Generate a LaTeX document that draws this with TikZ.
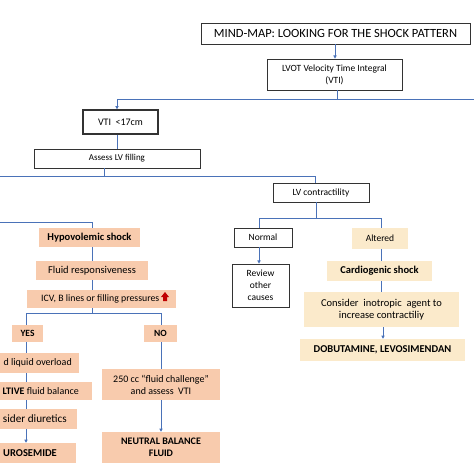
\documentclass[tikz,border=0pt]{standalone}
\usepackage{fontspec}
\setmainfont{Carlito}
\usetikzlibrary{arrows.meta}
\definecolor{peach}{HTML}{F8CBAD}
\definecolor{yel}{HTML}{FBEACB}
\definecolor{conn}{HTML}{4A72B8}
\definecolor{redarr}{HTML}{C00000}
\tikzset{
  base/.style={rectangle, inner sep=1pt, align=center, font=\fontsize{9.5}{11.5}\selectfont},
  wbox/.style={base, draw=black!80, line width=0.7pt, fill=white},
  pbox/.style={base, fill=peach},
  ybox/.style={base, fill=yel},
  ln/.style={draw=conn, line width=0.8pt},
  ar/.style={ln, -{Triangle[width=3.2pt,length=3.2pt]}},
  fs/.style={font=\fontsize{#1}{12}\selectfont},
  fb/.style={font=\fontsize{#1}{12}\selectfont\bfseries},
}
\begin{document}
\begin{tikzpicture}[x=1pt,y=-1pt]
\useasboundingbox (0,0) rectangle (474,474);
% top
\node[wbox, fs=12.5, minimum width=269pt, minimum height=21pt] (title) at (335.5,33.5) {MIND-MAP: LOOKING FOR THE SHOCK PATTERN};
\node[wbox, fs=9.5, minimum width=135pt, minimum height=31pt] (lvot) at (334.5,74.5) {LVOT Velocity Time Integral\\(VTI)};
\node[wbox, fs=10, line width=1.4pt, minimum width=75pt, minimum height=24pt] (vti) at (120.5,122) {VTI\ \ {<}17cm};
\node[wbox, fs=9, minimum width=166pt, minimum height=19pt] (assess) at (117,158.5) {Assess LV filling};
% right branch
\node[wbox, fs=9.5, minimum width=96pt, minimum height=19pt] (lvc) at (321,192.5) {LV contractility};
\node[wbox, fs=9.5, minimum width=58pt, minimum height=19pt] (normal) at (263,237.5) {Normal};
\node[wbox, fs=9.5, minimum width=57pt, minimum height=43pt] (review) at (260.5,285.5) {Review\\other\\causes};
\node[ybox, fs=9.5, minimum width=56pt, minimum height=21pt] (altered) at (380,238.5) {Altered};
\node[ybox, fb=10.5, minimum width=105pt, minimum height=20pt] (cardio) at (379.5,271) {Cardiogenic shock};
\node[ybox, fs=10.5, minimum width=155pt, minimum height=35pt] (consider) at (381.5,309.5) {Consider\ \ inotropic\ \ agent to\\increase contractiliy};
\node[ybox, fb=10.5, minimum width=165pt, minimum height=22pt] (dobut) at (382.5,350) {DOBUTAMINE, LEVOSIMENDAN};
% left branch
\node[pbox, fb=10.5, minimum width=101pt, minimum height=19pt] (hypo) at (89.5,237.5) {Hypovolemic shock};
\node[pbox, fs=10.5, minimum width=112pt, minimum height=19pt] (fresp) at (92,270.5) {Fluid responsiveness};
\node[pbox, minimum width=149pt, minimum height=18pt] (icv) at (101.5,299) {};
\node[base, fs=9.8, anchor=west] (icvt) at (40,299) {ICV, B lines or filling pressures};
\fill[redarr] (161,297) -- (165,292) -- (169,297) -- (167,297) -- (167,301) -- (163,301) -- (163,297) -- cycle;
\node[pbox, fb=9.5, minimum width=31pt, minimum height=17pt] (yes) at (27.5,333.5) {YES};
\node[pbox, fb=9.5, minimum width=33pt, minimum height=17pt] (no) at (160.5,333.5) {NO};
\node[pbox, minimum width=84pt, minimum height=20pt] (over) at (37,363) {};
\node[base, fs=10, anchor=east] (overt) at (73,363) {d liquid overload};
\node[pbox, minimum width=97pt, minimum height=18pt] (neg) at (43.5,391) {};
\node[base, fs=10, anchor=east] (negt) at (80,391) {\textbf{LTIVE} fluid balance};
\node[pbox, minimum width=82pt, minimum height=20pt] (diur) at (36,419) {};
\node[base, fs=11.2, anchor=east] (diurt) at (68,419) {sider diuretics};
\node[pbox, minimum width=81pt, minimum height=20pt] (furo) at (35.5,453) {};
\node[base, fb=10.5, anchor=east] (furot) at (58,453) {UROSEMIDE};
\node[pbox, fs=10, minimum width=118pt, minimum height=31pt] (chal) at (161,384.5) {250 cc ``fluid challenge''\\and assess\ \ VTI};
\node[pbox, fb=10, minimum width=118pt, minimum height=31pt] (neut) at (161,447.5) {NEUTRAL BALANCE\\FLUID};
% coordinates
\coordinate (j1) at (337,99);
\coordinate (j1l) at (117,99);
\coordinate (j1r) at (474,99);
\coordinate (j2) at (104,176);
\coordinate (j2l) at (0,176);
\coordinate (j2r) at (315,176);
\coordinate (j3l) at (0,222);
\coordinate (j3r) at (92,222);
\coordinate (j4) at (316,218);
\coordinate (j4l) at (259,218);
\coordinate (j4r) at (381,218);
\coordinate (j5) at (92,313);
\coordinate (j5l) at (26,313);
\coordinate (j5r) at (161,313);
% connectors
\draw[ar] (title.south -| 335,0) -- (lvot.north -| 335,0);
\draw[ln] (lvot.south -| j1) -- (j1);
\draw[ln] (j1l) -- (j1r);
\draw[ar] (j1l) -- (vti.north -| j1l);
\draw[ln] (vti.south -| j1l) -- (assess.north -| j1l);
\draw[ln] (assess.south -| j2) -- (j2);
\draw[ln] (j2l) -- (j2r) -- (lvc.north -| j2r);
\draw[ln] (j3l) -- (j3r) -- (hypo.north -| j3r);
\draw[ln] (lvc.south -| j4) -- (j4);
\draw[ln] (normal.north -| j4l) -- (j4l) -- (j4r) -- (altered.north -| j4r);
\draw[ar] (normal.south -| j4l) -- (review.north -| j4l);
\draw[ln] (altered.south -| j4r) -- (cardio.north -| j4r);
\draw[ln] (cardio.south -| j4r) -- (consider.north -| j4r);
\draw[ar] (consider.south -| 383,0) -- (dobut.north -| 383,0);
\draw[ln] (hypo.south -| j3r) -- (fresp.north -| j3r);
\draw[ln] (fresp.south -| j3r) -- (icv.north -| j3r);
\draw[ln] (icv.south -| j5) -- (j5);
\draw[ln] (yes.north -| j5l) -- (j5l) -- (j5r) -- (no.north -| j5r);
\draw[ln] (yes.south -| j5l) -- (over.north -| j5l);
\draw[ln] (over.south -| j5l) -- (neg.north -| j5l);
\draw[ln] (neg.south -| j5l) -- (diur.north -| j5l);
\draw[ar] (diur.south -| j5l) -- (furo.north -| j5l);
\draw[ln] (no.south -| j5r) -- (chal.north -| j5r);
\draw[ar] (chal.south -| j5r) -- (neut.north -| j5r);
\end{tikzpicture}
\end{document}
